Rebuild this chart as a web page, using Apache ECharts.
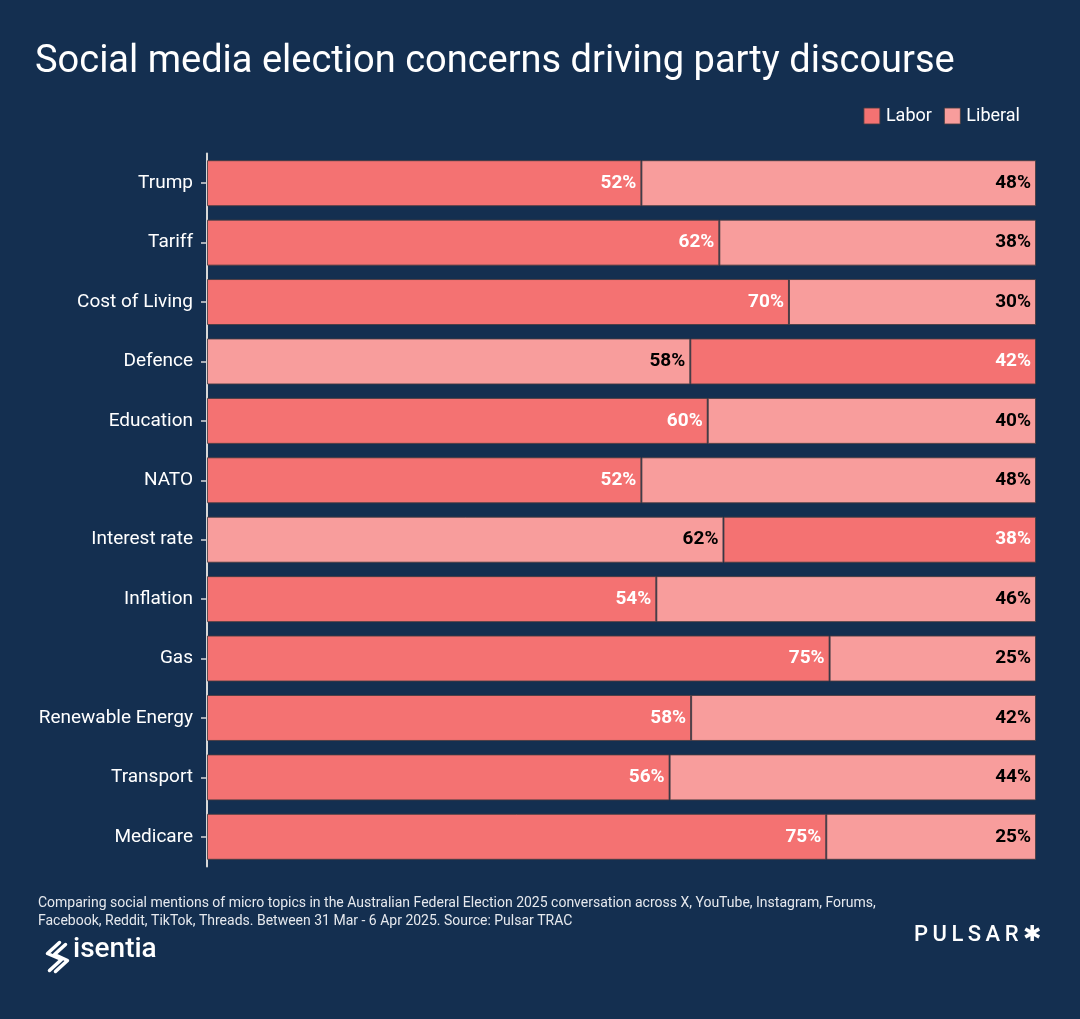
<!DOCTYPE html>
<html>
<head>
<meta charset="utf-8">
<style>
  html, body { margin: 0; padding: 0; background: #142f50; }
  #chart { width: 1080px; height: 1019px; }
</style>
<script src="https://cdn.jsdelivr.net/npm/echarts@6/dist/echarts.min.js"></script>
</head>
<body>
<div id="chart"></div>
<script>
// ---- data ----
const categories = ['Trump', 'Tariff', 'Cost of Living', 'Defence', 'Education', 'NATO',
  'Interest rate', 'Inflation', 'Gas', 'Renewable Energy', 'Transport', 'Medicare'];
const laborShare   = [52.4, 61.8, 70.2, 41.7, 60.4, 52.4, 37.7, 54.2, 75.1, 58.4, 55.8, 74.7];
const liberalShare = [47.6, 38.2, 29.8, 58.3, 39.6, 47.6, 62.3, 45.8, 24.9, 41.6, 44.2, 25.3];
// rows where the Liberal segment is drawn first (on the left)
const liberalFirstRows = ['Defence', 'Interest rate'];

const titleText = 'Social media election concerns driving party discourse';
const footnoteText = 'Comparing social mentions of micro topics in the Australian Federal Election 2025 conversation across X, YouTube, Instagram, Forums,\nFacebook, Reddit, TikTok, Threads. Between 31 Mar - 6 Apr 2025. Source: Pulsar TRAC';

// ---- styling ----
const BG = '#142f50';
const LABOR = '#f47272';
const LIBERAL = '#f89d9c';
const BORDER = 'rgba(70,60,65,0.85)';

const isLead = categories.map(c => liberalFirstRows.indexOf(c) >= 0);
const liberalLeadData = liberalShare.map((v, i) => isLead[i] ? v : '-');
const liberalTailData = liberalShare.map((v, i) => isLead[i] ? '-' : v);

function pct(p) { return Math.round(p.value) + '%'; }
const labelBase = {
  show: true, position: 'insideRight', distance: 5,
  fontFamily: 'Roboto', fontWeight: 'bold', fontSize: 19, formatter: pct
};
const barCommon = {
  type: 'bar', stack: 'share', barWidth: 46,
  itemStyle: { borderColor: BORDER, borderWidth: 1 }
};

const chart = echarts.init(document.getElementById('chart'), null, { renderer: 'canvas' });
chart.setOption({
  backgroundColor: BG,
  animation: false,
  textStyle: { fontFamily: 'Roboto' },
  title: {
    text: titleText, left: 30, top: 38,
    textStyle: { color: '#ffffff', fontSize: 38, fontWeight: 'normal', fontFamily: 'Roboto' }
  },
  legend: {
    right: 55, top: 102, itemWidth: 16, itemHeight: 16, itemGap: 12,
    icon: 'rect',
    textStyle: { color: '#ffffff', fontSize: 18, fontFamily: 'Roboto', padding: [0, 0, 0, 1] },
    data: [
      { name: 'Labor', itemStyle: { color: LABOR, borderColor: BORDER, borderWidth: 1 } },
      { name: 'Liberal', itemStyle: { color: LIBERAL, borderColor: BORDER, borderWidth: 1 } }
    ]
  },
  grid: { left: 207, right: 44, top: 153.5, bottom: 152.5, containLabel: false },
  xAxis: {
    type: 'value', min: 0, max: 100, show: false
  },
  yAxis: {
    type: 'category', data: categories, inverse: true,
    axisLine: { show: true, lineStyle: { color: '#d8d8d8', width: 2 } },
    axisTick: { show: true, alignWithLabel: true, length: 6, lineStyle: { color: '#d8d8d8', width: 1.5 } },
    axisLabel: { color: '#ffffff', fontSize: 19, fontFamily: 'Roboto', margin: 14 }
  },
  series: [
    Object.assign({}, barCommon, {
      name: 'Liberal', data: liberalLeadData,
      itemStyle: { color: LIBERAL, borderColor: BORDER, borderWidth: 1 },
      label: Object.assign({}, labelBase, { color: '#000000' })
    }),
    Object.assign({}, barCommon, {
      name: 'Labor', data: laborShare,
      itemStyle: { color: LABOR, borderColor: BORDER, borderWidth: 1 },
      label: Object.assign({}, labelBase, { color: '#ffffff' })
    }),
    Object.assign({}, barCommon, {
      name: 'Liberal', data: liberalTailData,
      itemStyle: { color: LIBERAL, borderColor: BORDER, borderWidth: 1 },
      label: Object.assign({}, labelBase, { color: '#000000' })
    })
  ],
  graphic: [
    {
      type: 'text', left: 38, top: 894,
      style: {
        text: footnoteText, fill: '#e6e9ee', font: '14px Roboto', lineHeight: 18
      }
    },
    {
      // isentia logo mark (stylised)
      type: 'group', left: 45, top: 940,
      children: [
        { type: 'polyline', shape: { points: [[14, 0], [2, 11], [16, 17], [4, 28]] },
          style: { stroke: '#ffffff', lineWidth: 3.5, fill: null, lineCap: 'round', lineJoin: 'round' } },
        { type: 'polyline', shape: { points: [[20, 2], [9, 12], [22, 18], [10, 29]] },
          style: { stroke: '#ffffff', lineWidth: 3.5, fill: null, lineCap: 'round', lineJoin: 'round' } }
      ]
    },
    {
      type: 'text', left: 73, top: 936,
      style: { text: 'isentia', fill: '#ffffff', font: '500 28px Roboto' }
    },
    {
      type: 'text', right: 39, top: 924,
      style: { text: 'P\u2009U\u2009L\u2009S\u2009A\u2009R\u2009\u2731', fill: '#ffffff', font: '500 22px Roboto' }
    }
  ]
});
</script>
</body>
</html>
